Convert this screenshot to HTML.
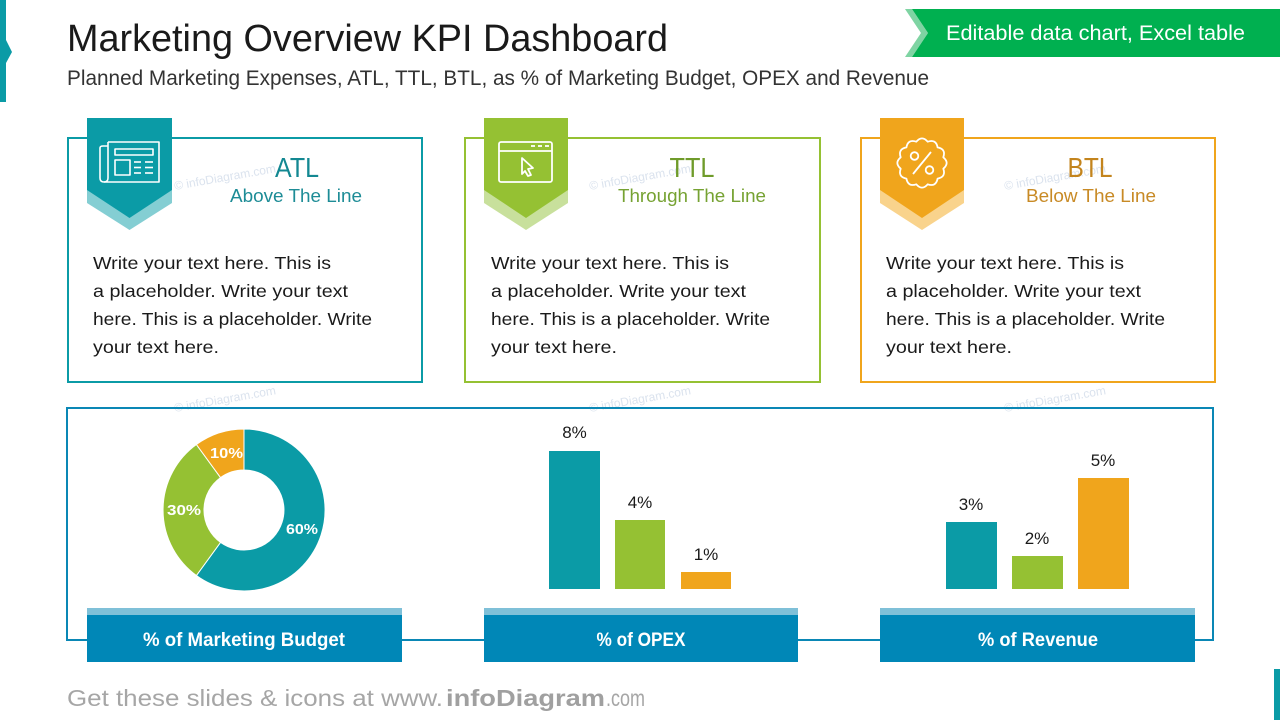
<!DOCTYPE html>
<html>
<head>
<meta charset="utf-8">
<style>
  html,body{margin:0;padding:0;background:#fff;}
  svg{display:block;}
</style>
</head>
<body>
<svg width="1280" height="720" viewBox="0 0 1280 720" xmlns="http://www.w3.org/2000/svg" font-family="'Liberation Sans', sans-serif">
  <rect width="1280" height="720" fill="#ffffff"/>

  <!-- left decoration -->
  <polygon points="0,0 6,0 6,40 12,52 6,63 6,102 0,102" fill="#0b9ba6"/>
  <!-- bottom right decoration -->
  <rect x="1274" y="669" width="6" height="51" fill="#0b9ba6"/>

  <!-- title -->
  <text x="67" y="51" font-size="38" fill="#1a1a1a" textLength="601" lengthAdjust="spacingAndGlyphs">Marketing Overview KPI Dashboard</text>
  <text x="67" y="85" font-size="21" fill="#333333" textLength="862" lengthAdjust="spacingAndGlyphs">Planned Marketing Expenses, ATL, TTL, BTL, as % of Marketing Budget, OPEX and Revenue</text>

  <!-- green banner -->
  <polygon points="905,9 912,9 928,33 912,57 905,57 921,33" fill="#7fd4a3"/>
  <polygon points="912,9 1280,9 1280,57 912,57 928,33" fill="#00b050"/>
  <text x="946" y="40" font-size="21" fill="#ffffff" textLength="299" lengthAdjust="spacingAndGlyphs">Editable data chart, Excel table</text>

  <!-- watermarks -->
  <g font-size="12" fill="#dbe3ee" transform="">
    <text x="175" y="190" transform="rotate(-10 175 190)">© infoDiagram.com</text>
    <text x="590" y="190" transform="rotate(-10 590 190)">© infoDiagram.com</text>
    <text x="1005" y="190" transform="rotate(-10 1005 190)">© infoDiagram.com</text>
    <text x="175" y="412" transform="rotate(-10 175 412)">© infoDiagram.com</text>
    <text x="590" y="412" transform="rotate(-10 590 412)">© infoDiagram.com</text>
    <text x="1005" y="412" transform="rotate(-10 1005 412)">© infoDiagram.com</text>
  </g>

  <!-- ===== Card ATL ===== -->
  <rect x="68" y="138" width="354" height="244" fill="none" stroke="#0b9ba6" stroke-width="2"/>
  <polygon points="87,190 172,190 172,203 129.5,230 87,203" fill="#84ced3"/>
  <polygon points="87,118 172,118 172,190 129.5,218 87,190" fill="#0b9ba6"/>
  <!-- newspaper icon -->
  <g fill="none" stroke="#ffffff" stroke-width="1.6" stroke-linejoin="round">
    <path d="M108,142 H159 V182 H104 Q100,182 100,178 V148 Q100,146 103,146 H108"/>
    <line x1="108" y1="142" x2="108" y2="178"/>
    <path d="M108,178 Q108,182 104,182"/>
    <rect x="115" y="149" width="38" height="6"/>
    <rect x="115" y="160" width="15" height="15"/>
    <line x1="134" y1="162" x2="141" y2="162"/><line x1="145" y1="162" x2="153" y2="162"/>
    <line x1="134" y1="167.5" x2="141" y2="167.5"/><line x1="145" y1="167.5" x2="153" y2="167.5"/>
    <line x1="134" y1="173" x2="141" y2="173"/><line x1="145" y1="173" x2="153" y2="173"/>
  </g>
  <text x="297" y="177" font-size="28" fill="#138892" text-anchor="middle" textLength="44" lengthAdjust="spacingAndGlyphs">ATL</text>
  <text x="296" y="202" font-size="18" fill="#1d8c96" text-anchor="middle" textLength="132" lengthAdjust="spacingAndGlyphs">Above The Line</text>
  <g font-size="17.5" fill="#1a1a1a">
    <text x="93" y="269" textLength="238" lengthAdjust="spacingAndGlyphs">Write your text here. This is</text>
    <text x="93" y="297" textLength="255" lengthAdjust="spacingAndGlyphs">a placeholder.  Write your text</text>
    <text x="93" y="325" textLength="279" lengthAdjust="spacingAndGlyphs">here. This is a placeholder.  Write</text>
    <text x="93" y="353" textLength="126" lengthAdjust="spacingAndGlyphs">your text here.</text>
  </g>

  <!-- ===== Card TTL ===== -->
  <rect x="465" y="138" width="355" height="244" fill="none" stroke="#95c133" stroke-width="2"/>
  <polygon points="484,190 568,190 568,203 526,230 484,203" fill="#c8e09c"/>
  <polygon points="484,118 568,118 568,190 526,218 484,190" fill="#95c133"/>
  <!-- browser icon -->
  <g fill="none" stroke="#ffffff" stroke-width="1.8" stroke-linejoin="round">
    <rect x="499" y="142" width="53" height="40" rx="2"/>
    <line x1="499" y1="151" x2="552" y2="151"/>
    <line x1="531" y1="146" x2="535" y2="146"/>
    <line x1="538" y1="146" x2="542" y2="146"/>
    <line x1="545" y1="146" x2="549" y2="146"/>
    <path d="M522,158 L533,168 L528,169 L531,175 L528,176 L525,171 L522,174 Z"/>
  </g>
  <text x="692" y="177" font-size="28" fill="#6f9b2a" text-anchor="middle" textLength="45" lengthAdjust="spacingAndGlyphs">TTL</text>
  <text x="692" y="202" font-size="18" fill="#76a232" text-anchor="middle" textLength="148" lengthAdjust="spacingAndGlyphs">Through The Line</text>
  <g font-size="17.5" fill="#1a1a1a">
    <text x="491" y="269" textLength="238" lengthAdjust="spacingAndGlyphs">Write your text here. This is</text>
    <text x="491" y="297" textLength="255" lengthAdjust="spacingAndGlyphs">a placeholder.  Write your text</text>
    <text x="491" y="325" textLength="279" lengthAdjust="spacingAndGlyphs">here. This is a placeholder.  Write</text>
    <text x="491" y="353" textLength="126" lengthAdjust="spacingAndGlyphs">your text here.</text>
  </g>

  <!-- ===== Card BTL ===== -->
  <rect x="861" y="138" width="354" height="244" fill="none" stroke="#f0a51c" stroke-width="2"/>
  <polygon points="880,190 964,190 964,203 922,230 880,203" fill="#f9d38c"/>
  <polygon points="880,118 964,118 964,190 922,218 880,190" fill="#f0a51c"/>
  <!-- percent badge icon -->
  <g fill="none" stroke="#ffffff" stroke-width="1.8" stroke-linejoin="round">
    <path d="M943.3,157.3 Q950,163 943.3,168.7 Q946.2,177 937.6,178.6 Q936,187.2 927.7,184.3 Q922,191 916.3,184.3 Q908,187.2 906.4,178.6 Q897.8,177 900.7,168.7 Q894,163 900.7,157.3 Q897.8,149 906.4,147.4 Q908,138.8 916.3,141.7 Q922,135 927.7,141.7 Q936,138.8 937.6,147.4 Q946.2,149 943.3,157.3 Z"/>
    <line x1="913" y1="174" x2="931" y2="152"/>
    <circle cx="914.5" cy="156" r="3.8"/>
    <circle cx="929.5" cy="170" r="3.8"/>
  </g>
  <text x="1090" y="177" font-size="28" fill="#c3841d" text-anchor="middle" textLength="45" lengthAdjust="spacingAndGlyphs">BTL</text>
  <text x="1091" y="202" font-size="18" fill="#c88a25" text-anchor="middle" textLength="130" lengthAdjust="spacingAndGlyphs">Below The Line</text>
  <g font-size="17.5" fill="#1a1a1a">
    <text x="886" y="269" textLength="238" lengthAdjust="spacingAndGlyphs">Write your text here. This is</text>
    <text x="886" y="297" textLength="255" lengthAdjust="spacingAndGlyphs">a placeholder.  Write your text</text>
    <text x="886" y="325" textLength="279" lengthAdjust="spacingAndGlyphs">here. This is a placeholder.  Write</text>
    <text x="886" y="353" textLength="126" lengthAdjust="spacingAndGlyphs">your text here.</text>
  </g>

  <!-- ===== bottom panel ===== -->
  <rect x="67" y="408" width="1146" height="232" fill="none" stroke="#0a87b5" stroke-width="2"/>

  <!-- donut -->
  <g stroke="#ffffff" stroke-width="1">
    <path d="M244,429 A81,81 0 1 1 196.4,575.5 L220.5,542.4 A40,40 0 1 0 244,470 Z" fill="#0b9ba6"/>
    <path d="M196.4,575.5 A81,81 0 0 1 196.4,444.5 L220.5,477.6 A40,40 0 0 0 220.5,542.4 Z" fill="#95c133"/>
    <path d="M196.4,444.5 A81,81 0 0 1 244,429 L244,470 A40,40 0 0 0 220.5,477.6 Z" fill="#f0a51c"/>
  </g>
  <g font-size="15" font-weight="bold" fill="#ffffff" text-anchor="middle">
    <text x="226.5" y="458" textLength="33" lengthAdjust="spacingAndGlyphs">10%</text>
    <text x="184" y="515" textLength="34" lengthAdjust="spacingAndGlyphs">30%</text>
    <text x="302" y="534" textLength="32" lengthAdjust="spacingAndGlyphs">60%</text>
  </g>

  <!-- OPEX bars -->
  <rect x="549" y="451" width="51" height="138" fill="#0b9ba6"/>
  <rect x="615" y="520" width="50" height="69" fill="#95c133"/>
  <rect x="681" y="572" width="50" height="17" fill="#f0a51c"/>
  <g font-size="17" fill="#1a1a1a" text-anchor="middle">
    <text x="574.5" y="438">8%</text>
    <text x="640" y="508">4%</text>
    <text x="706" y="560">1%</text>
  </g>

  <!-- Revenue bars -->
  <rect x="946" y="522" width="51" height="67" fill="#0b9ba6"/>
  <rect x="1012" y="556" width="51" height="33" fill="#95c133"/>
  <rect x="1078" y="478" width="51" height="111" fill="#f0a51c"/>
  <g font-size="17" fill="#1a1a1a" text-anchor="middle">
    <text x="971" y="510">3%</text>
    <text x="1037" y="544">2%</text>
    <text x="1103" y="466">5%</text>
  </g>

  <!-- label bars -->
  <rect x="87" y="608" width="315" height="7" fill="#7fc0d8"/>
  <rect x="87" y="615" width="315" height="47" fill="#0087b7"/>
  <rect x="484" y="608" width="314" height="7" fill="#7fc0d8"/>
  <rect x="484" y="615" width="314" height="47" fill="#0087b7"/>
  <rect x="880" y="608" width="315" height="7" fill="#7fc0d8"/>
  <rect x="880" y="615" width="315" height="47" fill="#0087b7"/>
  <g font-size="19" font-weight="bold" fill="#ffffff" text-anchor="middle">
    <text x="244" y="646" textLength="202" lengthAdjust="spacingAndGlyphs">% of Marketing  Budget</text>
    <text x="641" y="646" textLength="89" lengthAdjust="spacingAndGlyphs">% of OPEX</text>
    <text x="1038" y="646" textLength="120" lengthAdjust="spacingAndGlyphs">% of Revenue</text>
  </g>

  <!-- footer -->
  <text x="67" y="706" font-size="23" fill="#a6a6a6" textLength="376" lengthAdjust="spacingAndGlyphs">Get these slides &amp; icons at www.</text>
  <text x="446" y="706" font-size="23" font-weight="bold" fill="#a0a0a0" textLength="159" lengthAdjust="spacingAndGlyphs">infoDiagram</text>
  <text x="606" y="706" font-size="23" fill="#a6a6a6" textLength="39" lengthAdjust="spacingAndGlyphs">.com</text>
</svg>
</body>
</html>
